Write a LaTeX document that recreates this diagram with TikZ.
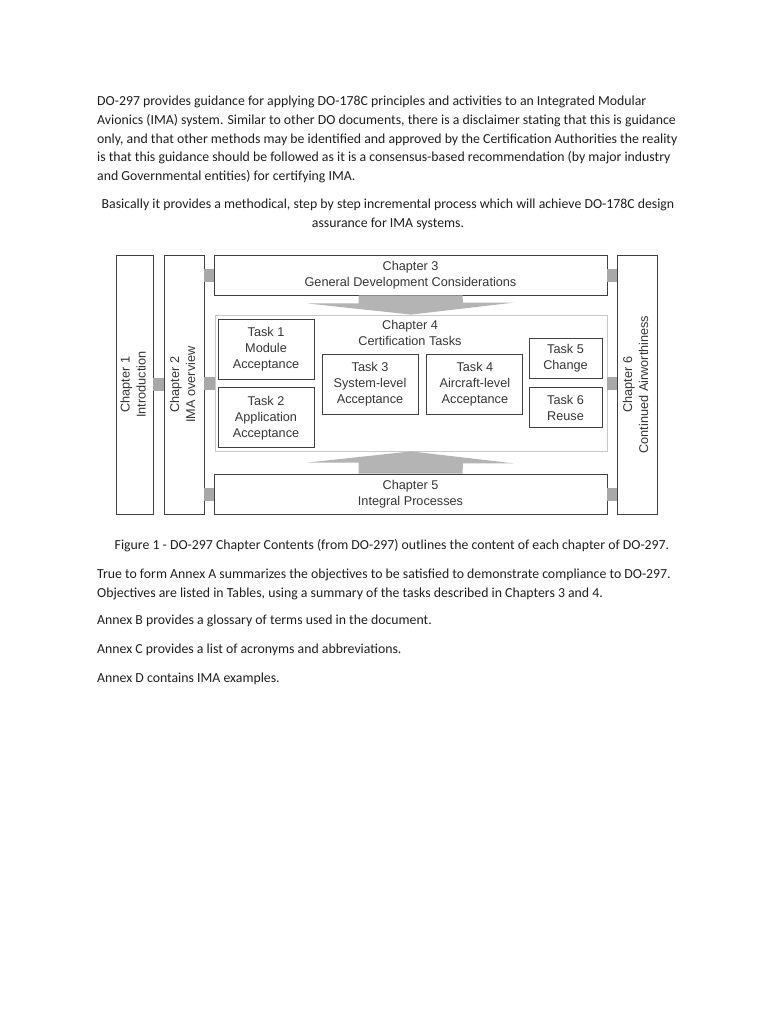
\documentclass[tikz,border=0pt]{standalone}
\usepackage{fontspec}
\usepackage{graphicx}
\setmainfont{Carlito}
\newfontfamily\diagfont{Liberation Sans}
\usetikzlibrary{positioning}
\definecolor{pagetext}{HTML}{1F1F1F}
\definecolor{diagtext}{HTML}{363636}
\definecolor{boxline}{HTML}{404040}
\definecolor{frameline}{HTML}{C8C8C8}
\definecolor{linkgray}{HTML}{A8A8A8}
\definecolor{arrowgray}{HTML}{B4B4B4}
\newcommand{\vlabel}[2]{\rotatebox{90}{\begin{tabular}{@{}c@{}}#1\\#2\end{tabular}}}
\tikzset{
    chapbox/.style={draw=boxline, line width=0.9pt, inner sep=0pt, align=center,
        text=diagtext, font=\diagfont\fontsize{12.7}{16}\selectfont},
    taskbox/.style={chapbox, minimum width=96, minimum height=60},
    smalltask/.style={chapbox, minimum width=73, minimum height=40},
    link/.style={draw=linkgray, line width=13pt},
    bigarrow/.style={fill=arrowgray},
    bodytext/.style={inner sep=0pt, align=left, text=pagetext,
        font=\fontsize{13.8}{18.7}\selectfont},
}
\begin{document}
\begin{tikzpicture}[x=1pt,y=-1pt]
    \useasboundingbox[fill=white] (0,0) rectangle (768,1024);
    % text above the figure
    \node[bodytext, anchor=north west] (intro) at (97,96) {DO-297 provides guidance for applying DO-178C principles and activities to an Integrated Modular\\
        Avionics (IMA) system. Similar to other DO documents, there is a disclaimer stating that this is guidance\\
        only, and that other methods may be identified and approved by the Certification Authorities the reality\\
        is that this guidance should be followed as it is a consensus-based recommendation (by major industry\\
        and Governmental entities) for certifying IMA.};
    \node[bodytext, align=center, anchor=north] (basic) at (388,199) {Basically it provides a methodical, step by step incremental process which will achieve DO-178C design\\
        assurance for IMA systems.};
    % chapters
    \node[chapbox, minimum width=37, minimum height=259] (ch1) at (134.5,384.5) {\vlabel{Chapter 1}{Introduction}};
    \node[chapbox, minimum width=40, minimum height=259] (ch2) at (184,384.5) {\vlabel{Chapter 2}{IMA overview}};
    \node[chapbox, minimum width=393, minimum height=40] (ch3) at (410.5,275) {Chapter 3\\General Development Considerations};
    \node[draw=frameline, line width=0.8pt, minimum width=392, minimum height=136, inner sep=0pt] (ch4) at (411,383) {};
    \node[chapbox, draw=none] (ch4title) at (410,333) {Chapter 4\\Certification Tasks};
    \node[chapbox, minimum width=393, minimum height=40] (ch5) at (410.5,494) {Chapter 5\\Integral Processes};
    \node[chapbox, minimum width=40, minimum height=259] (ch6) at (637,384.5) {\vlabel{Chapter 6}{Continued Airworthiness}};
    % tasks
    \node[taskbox] (t1) at (266,349) {Task 1\\Module\\Acceptance};
    \node[taskbox, below=8pt of t1] (t2) {Task 2\\Application\\Acceptance};
    \node[taskbox] (t3) at (370,384) {Task 3\\System-level\\Acceptance};
    \node[taskbox, right=8pt of t3] (t4) {Task 4\\Aircraft-level\\Acceptance};
    \node[smalltask] (t5) at (565.5,358) {Task 5\\Change};
    \node[smalltask, below=9pt of t5] (t6) {Task 6\\Reuse};
    % links between chapters
    \draw[link] (ch1.east) -- (ch2.west);
    \draw[link] (ch2.east |- ch3.west) -- (ch3.west);
    \draw[link] (ch2.east |- ch4.west) -- (ch4.west);
    \draw[link] (ch2.east |- ch5.west) -- (ch5.west);
    \draw[link] (ch3.east) -- (ch6.west |- ch3.east);
    \draw[link] (ch4.east) -- (ch6.west |- ch4.east);
    \draw[link] (ch5.east) -- (ch6.west |- ch5.east);
    % wide arrows into chapter 4
    \fill[bigarrow] ([xshift=-52pt]ch3.south) -- ++(0,8) -- ++(-51,0) -- (ch4.north) -- ++(103,-12) -- ++(-51,0) -- ([xshift=52pt]ch3.south) -- cycle;
    \fill[bigarrow] ([xshift=-52pt]ch5.north) -- ++(0,-11) -- ++(-51,0) -- (ch4.south) -- ++(103,12) -- ++(-51,0) -- ([xshift=52pt]ch5.north) -- cycle;
    % text below the figure
    \node[bodytext, align=center, anchor=north] (caption) at (392,539.5) {Figure 1 - DO-297 Chapter Contents (from DO-297) outlines the content of each chapter of DO-297.};
    \node[bodytext, anchor=north west] (annexa) at (97,569) {True to form Annex A summarizes the objectives to be satisfied to demonstrate compliance to DO-297.\\
        Objectives are listed in Tables, using a summary of the tasks described in Chapters 3 and 4.};
    \node[bodytext, anchor=north west] (annexb) at (97,615) {Annex B provides a glossary of terms used in the document.};
    \node[bodytext, anchor=north west] (annexc) at (97,644) {Annex C provides a list of acronyms and abbreviations.};
    \node[bodytext, anchor=north west] (annexd) at (97,673) {Annex D contains IMA examples.};
\end{tikzpicture}
\end{document}
